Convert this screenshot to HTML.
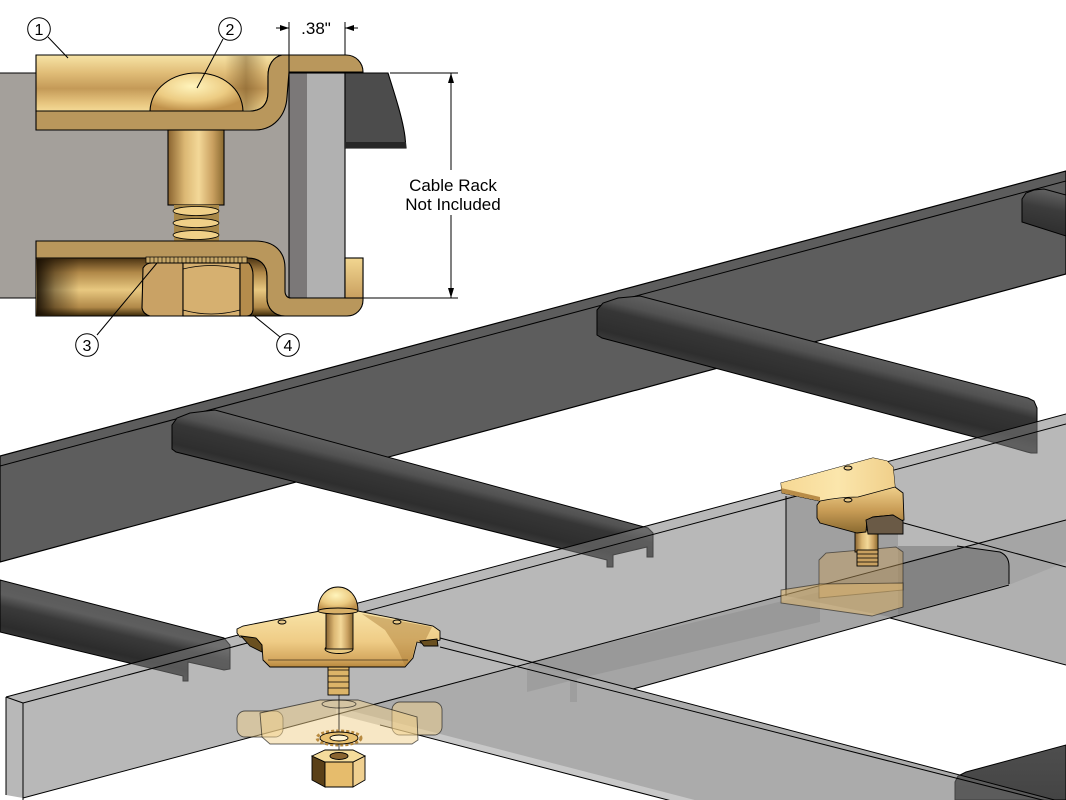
<!DOCTYPE html>
<html><head><meta charset="utf-8"><style>
html,body{margin:0;padding:0;background:#fff;}
svg{display:block;}
text{font-family:"Liberation Sans",Arial,sans-serif;fill:#000;}
</style></head><body>
<svg width="1066" height="800" viewBox="0 0 1066 800" xmlns="http://www.w3.org/2000/svg">
<defs>
<linearGradient id="r1" gradientUnits="userSpaceOnUse" x1="412" y1="460" x2="400" y2="508">
<stop offset="0" stop-color="#626262"/><stop offset="0.28" stop-color="#525252"/><stop offset="0.45" stop-color="#363636"/><stop offset="0.85" stop-color="#2e2e2e"/><stop offset="1" stop-color="#3a3a3a"/></linearGradient>
<linearGradient id="r2" gradientUnits="userSpaceOnUse" x1="813" y1="338" x2="800" y2="389">
<stop offset="0" stop-color="#626262"/><stop offset="0.28" stop-color="#525252"/><stop offset="0.45" stop-color="#363636"/><stop offset="0.85" stop-color="#2e2e2e"/><stop offset="1" stop-color="#3a3a3a"/></linearGradient>
<linearGradient id="r0" gradientUnits="userSpaceOnUse" x1="113" y1="604" x2="100" y2="658">
<stop offset="0" stop-color="#5a5a5a"/><stop offset="0.3" stop-color="#5e5e5e"/><stop offset="0.5" stop-color="#3a3a3a"/><stop offset="0.85" stop-color="#2c2c2c"/><stop offset="1" stop-color="#363636"/></linearGradient>
<linearGradient id="r3" gradientUnits="userSpaceOnUse" x1="1048" y1="192" x2="1040" y2="232">
<stop offset="0" stop-color="#5e5e5e"/><stop offset="0.4" stop-color="#3c3c3c"/><stop offset="1" stop-color="#2e2e2e"/></linearGradient>
<linearGradient id="upb" x1="0" y1="0" x2="0" y2="1">
<stop offset="0" stop-color="#f7e4a6"/><stop offset="0.3" stop-color="#e2bf7a"/><stop offset="0.6" stop-color="#c49a58"/><stop offset="0.85" stop-color="#e6c47e"/><stop offset="1" stop-color="#f4da96"/></linearGradient>
<linearGradient id="shade" x1="0" y1="0" x2="1" y2="0">
<stop offset="0" stop-color="#5a3a10" stop-opacity="0"/><stop offset="0.5" stop-color="#5a3a10" stop-opacity="0.4"/><stop offset="1" stop-color="#5a3a10" stop-opacity="0"/></linearGradient>
<radialGradient id="dome" cx="0.45" cy="0.35" r="0.65">
<stop offset="0" stop-color="#fff4bc"/><stop offset="0.6" stop-color="#eccb82"/><stop offset="1" stop-color="#c0924c"/></radialGradient>
<linearGradient id="shaft" x1="0" y1="0" x2="1" y2="0">
<stop offset="0" stop-color="#8a6430"/><stop offset="0.3" stop-color="#dcb874"/><stop offset="0.55" stop-color="#f3d898"/><stop offset="0.8" stop-color="#c9a060"/><stop offset="1" stop-color="#8a6a30"/></linearGradient>
<linearGradient id="lowb" x1="0" y1="0" x2="0" y2="1">
<stop offset="0" stop-color="#4a3212"/><stop offset="0.25" stop-color="#b08848"/><stop offset="0.55" stop-color="#e8c880"/><stop offset="0.85" stop-color="#b08848"/><stop offset="1" stop-color="#3a2808"/></linearGradient>
<linearGradient id="lowl" x1="0" y1="0" x2="1" y2="0">
<stop offset="0" stop-color="#140c02" stop-opacity="0.9"/><stop offset="0.15" stop-color="#140c02" stop-opacity="0.4"/><stop offset="0.35" stop-color="#140c02" stop-opacity="0"/></linearGradient>
<linearGradient id="flg" x1="0" y1="0" x2="0" y2="1">
<stop offset="0" stop-color="#f2d690"/><stop offset="1" stop-color="#c9a060"/></linearGradient>
<linearGradient id="lp" x1="0" y1="0" x2="0" y2="1">
<stop offset="0" stop-color="#f8e4a8"/><stop offset="0.55" stop-color="#efcc86"/><stop offset="0.85" stop-color="#d6aa62"/><stop offset="1" stop-color="#b8883e"/></linearGradient>
<linearGradient id="mp" x1="0" y1="0" x2="0" y2="1">
<stop offset="0" stop-color="#fae6a8"/><stop offset="0.4" stop-color="#eecd88"/><stop offset="0.7" stop-color="#c89c56"/><stop offset="1" stop-color="#8a6a30"/></linearGradient>
<linearGradient id="mtab" x1="0" y1="0" x2="1" y2="0">
<stop offset="0" stop-color="#f6d894"/><stop offset="0.5" stop-color="#fbe6ac"/><stop offset="1" stop-color="#f0cf8a"/></linearGradient>
<linearGradient id="r4" x1="0" y1="0" x2="0" y2="1">
<stop offset="0" stop-color="#4e4e4e"/><stop offset="1" stop-color="#444"/></linearGradient>
</defs>

<!-- ===== far dark rail ===== -->
<polygon points="0,456 1066,171 1066,274 0,562" fill="#5d5d5d" stroke="#000" stroke-width="1.2"/>
<line x1="0" y1="466" x2="1066" y2="181" stroke="#000" stroke-width="1"/>

<!-- rung 3 -->
<polygon points="1022,199 1026,193 1034,190 1044,189 1066,195 1066,236 1022,222" fill="url(#r3)" stroke="#000" stroke-width="1"/>
<!-- rung 2 -->
<polygon points="597,310 603,303 618,298 640,296 1028,398 1034,401 1037,408 1037,453 1031,453 1027,452 978,438 602,338 597,335" fill="url(#r2)" stroke="#000" stroke-width="1"/>
<!-- rung 1 -->
<polygon points="172,425 177,418 190,413 215,410 648,528 653,533 653,557 647,557 647,547 613,555 613,567 607,567 607,560 176,452 172,449" fill="url(#r1)" stroke="#000" stroke-width="1"/>
<!-- rung 0 -->
<polygon points="0,580 224,638 230,645 230,669 224,670 188,662 188,681 183,681 183,676 0,632" fill="url(#r0)" stroke="#000" stroke-width="1"/>
<!-- rung 4 bottom right -->
<polygon points="955,800 955,782 958,776 966,772 1066,745 1066,800" fill="url(#r4)" stroke="#000" stroke-width="1"/>

<!-- ===== transparent lower structure ===== -->
<polygon points="6,697 1066,414 1066,665 890,618 633,689 1066,803 1066,812 714,812 336,714 23,798 6,795" fill="#7e7e7e" fill-opacity="0.55"/>
<!-- T region -->
<polygon points="336,714 525,664 633,689 1066,803 1066,812 714,812" fill="#000" fill-opacity="0.07"/>
<!-- band below near rail -->
<polygon points="525,664 1066,520 1066,562 1009,585 633,689" fill="#000" fill-opacity="0.1"/>
<polygon points="890,618 1009,585 1066,562 1066,665" fill="#000" fill-opacity="0.04"/>
<!-- ghost flanges / darker stripe -->
<polygon points="527,668 533,661 820,592 820,622 577,679 577,702 570,702 570,681 535,690 527,692" fill="#000" fill-opacity="0.07"/>
<!-- light strip above L2 -->
<polygon points="336,707 714,805 714,812 336,714" fill="#fff" fill-opacity="0.35"/>
<!-- middle clamp box seen through -->
<path d="M786,496 L898,496 L898,546 L957,546 L1000,552 Q1009,556 1009,566 L1009,584 L890,617 L786,596 Z" fill="#000" fill-opacity="0.13"/>
<path d="M898,546 L957,546 L1000,552 Q1009,556 1009,566 L1009,584 L898,615 Z" fill="#000" fill-opacity="0.08"/>

<!-- lines -->
<g stroke="#000" stroke-width="1" fill="none">
<line x1="6" y1="697" x2="1066" y2="414"/>
<line x1="23" y1="703" x2="1066" y2="424"/>
<line x1="23" y1="798" x2="1066" y2="520"/>
<line x1="6" y1="697" x2="23" y2="703"/>
<line x1="6" y1="697" x2="6" y2="795"/>
<line x1="23" y1="703" x2="23" y2="800"/>
<line x1="440" y1="638" x2="1066" y2="803"/>
<line x1="440" y1="647" x2="1066" y2="806"/>
<line x1="380" y1="725" x2="714" y2="812"/>
<line x1="633" y1="689" x2="1009" y2="585"/>
<line x1="890" y1="618" x2="1066" y2="665"/>
<line x1="900" y1="522" x2="1066" y2="567"/>
<line x1="786" y1="496" x2="786" y2="596"/>
<path d="M957,546 L1000,552 Q1009,556 1009,566 L1009,584"/>
</g>

<!-- ===== middle clamp ===== -->
<g stroke="#000" stroke-width="0.9">
<polygon points="819,560 826,553 896,547 903,552 903,590 819,598" fill="#c8a060" fill-opacity="0.45" stroke-opacity="0.5"/>
<polygon points="781,590 820,584 903,583 903,607 872,616 781,603" fill="#e0b870" fill-opacity="0.55" stroke-opacity="0.5"/>
<rect x="855" y="530" width="23" height="22" fill="url(#shaft)"/>
<rect x="857" y="550" width="21" height="16" fill="#c8a060"/>
<path d="M857,554 H878 M857,558 H878 M857,562 H878" stroke-width="0.7"/>
<polygon points="781,483 873,458 887,461 893,467 895,487 903,493 904,520 895,522 893,515 873,517 867,520 866,532 857,533 820,523 817,518 817,505 820,501 782,493" fill="url(#mp)"/>
<polygon points="781,483 873,458 887,461 893,467 895,487 858,497 820,501 782,493" fill="url(#mtab)" stroke="none"/>
<polygon points="781,488 820,497 820,501 782,493" fill="#b88c48" stroke="none"/>
<polygon points="866,520 873,517 893,515 903,521 903,534 868,534" fill="#6a5a46"/>
<ellipse cx="848" cy="468" rx="4" ry="2" fill="#e8c888"/>
<ellipse cx="848" cy="500" rx="4" ry="2" fill="#e8c888"/>
<path d="M820,501 Q840,497 858,497 L895,487" fill="none" stroke-width="0.7"/>
</g>

<!-- ===== left clamp ===== -->
<g stroke="#000" stroke-width="0.9">
<g fill="#efcf8c" fill-opacity="0.5" stroke-opacity="0.6">
<rect x="237" y="711" width="46" height="26" rx="8"/>
<rect x="392" y="702" width="50" height="33" rx="8"/>
<polygon points="260,713 320,700 358,700 417,717 418,740 412,744 270,744 262,737"/>
</g>
<ellipse cx="339" cy="704" rx="17" ry="4" fill="none" stroke-opacity="0.6"/>
<line x1="339" y1="690" x2="339" y2="760" stroke-width="0.7"/>
<ellipse cx="339" cy="738" rx="22" ry="7" fill="none" stroke="#b88a40" stroke-width="3" stroke-dasharray="3 2"/>
<ellipse cx="339" cy="738" rx="19" ry="6" fill="#e8c070"/>
<ellipse cx="339" cy="738" rx="9" ry="3" fill="#fff3d0"/>
<polygon points="312,756 325,762 325,787 312,780" fill="#5a4018"/>
<polygon points="325,762 353,762 353,787 325,787" fill="#e6bc6c"/>
<polygon points="353,762 365,756 365,780 353,787" fill="#f0d090"/>
<polygon points="312,756 325,750 353,750 365,756 353,762 325,762" fill="#f4dc9c"/>
<ellipse cx="339" cy="756" rx="9" ry="3.5" fill="#8a6430"/>
<rect x="328" y="664" width="21" height="31" fill="#dcb468"/>
<path d="M328,670 H349 M328,676 H349 M328,682 H349 M328,688 H349" stroke-width="0.8"/>
<polygon points="237,633 237,629 243,626 320,611 353,610 433,626 440,631 440,640 425,644 417,642 413,658 405,667 270,667 263,660 262,645 257,639 240,637" fill="url(#lp)"/>
<polygon points="362,614 432,627 424,643 416,642 412,658 405,666 398,650 385,630" fill="#a87a36" fill-opacity="0.45" stroke="none"/>
<polygon points="241,636 256,638 262,645 262,652 250,646" fill="#6a5020"/>
<polygon points="420,641 437,639 438,646 424,646" fill="#6a5020"/>
<ellipse cx="282" cy="622" rx="4" ry="2" fill="#e8c888"/>
<ellipse cx="397" cy="622" rx="4" ry="2" fill="#e8c888"/>
<line x1="268" y1="660" x2="408" y2="660" stroke-width="0.6"/>
<ellipse cx="339" cy="649" rx="14" ry="4.5" fill="#e8c880"/>
<rect x="326" y="612" width="27" height="37" fill="url(#shaft)"/>
<path d="M318,611 C318,596 327,587 338,587 C349,587 358,596 358,611 Z" fill="url(#dome)"/>
<ellipse cx="338" cy="611" rx="20" ry="3" fill="#d8b068"/>
</g>

<!-- ===== INSET ===== -->
<rect x="0" y="73" width="290" height="225" fill="#a4a09b"/>
<g stroke="#000" stroke-width="1.1">
<line x1="0" y1="73" x2="36" y2="73"/>
<line x1="0" y1="298" x2="36" y2="298"/>
<rect x="289" y="73" width="18" height="225" fill="#7b7878" stroke="none"/>
<rect x="307" y="73" width="38" height="225" fill="#b1b1b1" stroke="none"/>
<rect x="289" y="73" width="56" height="225" fill="none"/>
<path d="M345,73 L388,73 C395,95 403,120 405,137 L406,148 L345,148 Z" fill="#4c4c4c"/>
<rect x="345" y="142" width="61" height="6" fill="#262626" stroke="none"/>
<path d="M36,55 L282,55 C273,57 268,65 268,76 L268,92 C268,104 262,111 250,111 L36,111 Z" fill="url(#upb)"/>
<rect x="225" y="56" width="42" height="54" fill="url(#shade)" stroke="none"/>
<path d="M36,111 L250,111 C262,111 268,104 268,92 L268,76 C268,65 273,57 282,55 L346,55 C356,55 363,63 363,72 L289,72 L287,97 C286,115 274,130 255,130 L36,130 Z" fill="#b9975c"/>
<path d="M150,111 C151,88 172,73 197,73 C222,73 242,88 243,111 Z" fill="url(#dome)"/>
<rect x="168" y="130" width="56" height="75" fill="url(#shaft)"/>
<rect x="174" y="205" width="45" height="36" fill="#a88848" stroke="none"/>
<ellipse cx="196" cy="211" rx="23" ry="4.5" fill="#f0d088" stroke-width="0.8"/>
<ellipse cx="196" cy="223" rx="23" ry="4.5" fill="#f0d088" stroke-width="0.8"/>
<ellipse cx="196" cy="235" rx="23" ry="4.5" fill="#f0d088" stroke-width="0.8"/>
<path d="M36,258 L248,258 C260,258 267,265 267,276 L267,298 C267,308 274,316 285,316 L36,316 Z" fill="url(#lowb)"/>
<rect x="37" y="259" width="120" height="56" fill="url(#lowl)" stroke="none"/>
<path d="M36,241 L255,241 C275,241 285,252 285,268 L285,291 C285,295 287,298 291,298 L345,298 L345,258 L363,258 L363,300 C363,309 356,316 347,316 L285,316 C274,316 267,308 267,298 L267,276 C267,265 260,258 248,258 L36,258 Z" fill="#b9975c"/>
<rect x="345" y="258" width="18" height="40" fill="url(#flg)"/>
<rect x="146" y="257" width="101" height="6" fill="#c8a868" stroke-width="0.7"/>
<path d="M150,257v6M154,257v6M158,257v6M162,257v6M166,257v6M170,257v6M174,257v6M178,257v6M182,257v6M186,257v6M190,257v6M194,257v6M198,257v6M202,257v6M206,257v6M210,257v6M214,257v6M218,257v6M222,257v6M226,257v6M230,257v6M234,257v6M238,257v6M242,257v6" stroke-width="0.6"/>
<path d="M143,268 Q146,263 152,263 L183,263 L183,316 L150,316 Q143,314 142,308 Z" fill="#c9a265"/>
<rect x="183" y="263" width="57" height="53" fill="#d6b070"/>
<path d="M240,263 L249,263 Q253,268 253,275 L253,310 Q252,316 247,316 L240,316 Z" fill="#b58c4c"/>
<path d="M183,269 Q211,262 240,269 M183,310 Q211,318 240,310" fill="none" stroke-width="0.7"/>
</g>

<!-- dimensions -->
<g stroke="#000" stroke-width="1" fill="none">
<line x1="289" y1="22" x2="289" y2="72"/>
<line x1="345" y1="22" x2="345" y2="55"/>
<line x1="276" y1="28" x2="289" y2="28"/>
<line x1="345" y1="28" x2="358" y2="28"/>
<line x1="451" y1="73" x2="451" y2="170"/>
<line x1="451" y1="215" x2="451" y2="298"/>
<line x1="390" y1="73" x2="458" y2="73"/>
<line x1="347" y1="298" x2="458" y2="298"/>
</g>
<polygon points="289,28 280,25 280,31"/>
<polygon points="345,28 354,25 354,31"/>
<polygon points="451,73 448,83 454,83"/>
<polygon points="451,298 448,288 454,288"/>
<text x="316" y="34" font-size="17" text-anchor="middle">.38"</text>
<text x="453" y="191" font-size="17" text-anchor="middle">Cable Rack</text>
<text x="453" y="210" font-size="17" text-anchor="middle">Not Included</text>

<!-- callouts -->
<g stroke="#000" stroke-width="1" fill="#fff">
<line x1="48" y1="37" x2="68" y2="58"/>
<line x1="223" y1="39" x2="197" y2="88"/>
<line x1="97" y1="335" x2="157" y2="263"/>
<line x1="280" y1="337" x2="253" y2="315"/>
<circle cx="39" cy="29" r="11.3"/>
<circle cx="230" cy="29" r="11.3"/>
<circle cx="87" cy="345" r="11.3"/>
<circle cx="288" cy="345" r="11.3"/>
</g>
<g font-size="16" text-anchor="middle">
<text x="39" y="35">1</text>
<text x="230" y="35">2</text>
<text x="87" y="351">3</text>
<text x="288" y="351">4</text>
</g>
</svg>
</body></html>
